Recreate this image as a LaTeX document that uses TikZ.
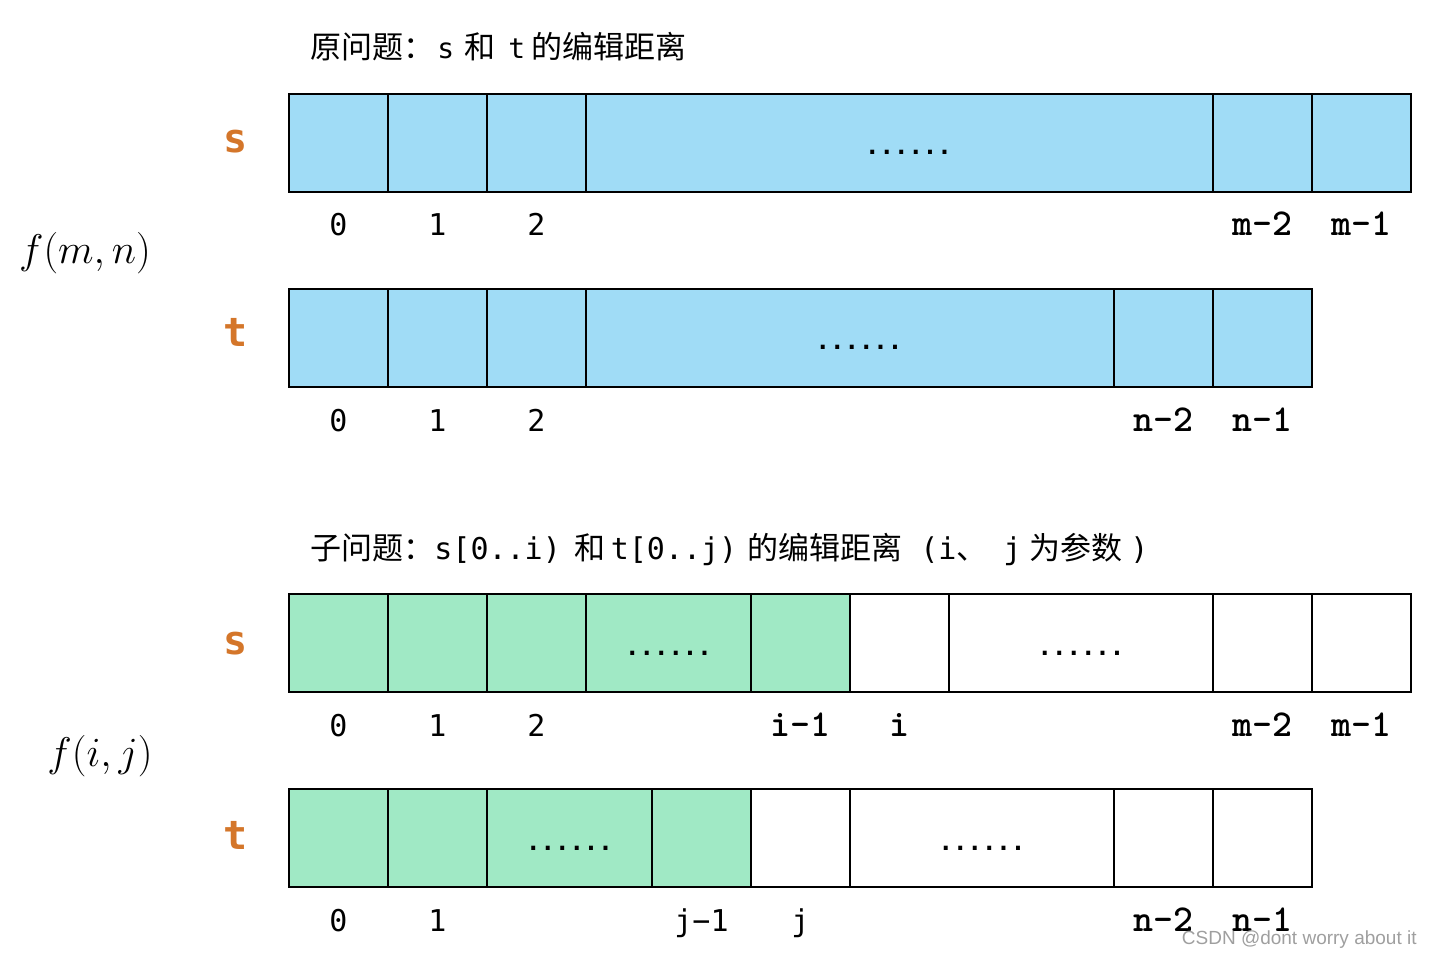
\documentclass[tikz,border=0pt]{standalone}
\usepackage{fontspec}
\usetikzlibrary{positioning,calc}
\newfontfamily\cjk{Noto Sans CJK SC}
\newfontfamily\monosans{DejaVu Sans Mono}
\newfontfamily\wmfont{Liberation Sans}
\definecolor{cellblue}{RGB}{160,220,246}
\definecolor{cellgreen}{RGB}{160,233,197}
\definecolor{strorange}{RGB}{212,118,42}
\newcommand\celldots{......}
\newcommand\celldotsR{\hspace*{9pt}......}

\begin{document}
\begin{tikzpicture}[x=0.5pt, y=-0.5pt,
    cell/.style={draw, fill=#1, line width=1.2pt, inner sep=0pt, outer sep=0pt,
                 anchor=north west, minimum height=49pt, text height=12pt, text depth=0pt,
                 font=\monosans\bfseries\fontsize{12}{12}\selectfont},
    strname/.style={anchor=base, text=strorange, font=\monosans\bfseries\fontsize{20}{20}\selectfont},
    idx/.style={anchor=base, font=\monosans\fontsize{15}{15}\selectfont},
    idxv/.style={anchor=base, font=\ttfamily\bfseries\fontsize{19}{19}\selectfont},
    title/.style={anchor=base west, inner sep=0pt, font=\cjk\fontsize{15.5}{15.5}\selectfont},
    fname/.style={anchor=base, inner sep=0pt, font=\fontsize{22}{22}\selectfont}]
  \useasboundingbox (0,0) rectangle (1433,956);

  %% original problem
  \node[title] (origTitle) at (310,59)
    {原问题：\hspace{1.5pt}{\monosans\fontsize{14}{14}\selectfont s}\hspace{5pt}和\hspace{6.5pt}{\monosans\fontsize{14}{14}\selectfont t}\hspace{3pt}的编辑距离};
  \foreach \a/\b/\c/\t [count=\k] in {289/388/cellblue/{},388/487/cellblue/{},487/586/cellblue/{},
      586/1213/cellblue/\celldotsR,1213/1312/cellblue/{},1312/1411/cellblue/{}}
    \node[cell=\c, minimum width={(\b-\a)*0.5pt}] (origS\k) at (\a,94) {\t};
  \foreach \a/\b/\c/\t [count=\k] in {289/388/cellblue/{},388/487/cellblue/{},487/586/cellblue/{},
      586/1114/cellblue/\celldotsR,1114/1213/cellblue/{},1213/1312/cellblue/{}}
    \node[cell=\c, minimum width={(\b-\a)*0.5pt}] (origT\k) at (\a,289) {\t};
  \node[strname] (origSName) at (236,153) {s};
  \node[strname] (origTName) at (236,347) {t};
  \foreach \c/\t in {1/0,2/1,3/2}
    \node[idx] (origSIdx\c) at ([yshift=-22pt]origS\c.south) {\t};
  \foreach \c/\t in {5/m-2,6/m-1}
    \node[idxv] (origSIdx\c) at ([yshift=-22pt]origS\c.south) {\t};
  \foreach \c/\t in {1/0,2/1,3/2}
    \node[idx] (origTIdx\c) at ([yshift=-22pt]origT\c.south) {\t};
  \foreach \c/\t in {5/n-2,6/n-1}
    \node[idxv] (origTIdx\c) at ([yshift=-22pt]origT\c.south) {\t};
  \node[fname] (origF) at (85,264) {$f(m,n)$};

  %% sub problem
  \node[title] (subTitle) at (310,559)
    {子问题：{\monosans\fontsize{15}{15}\selectfont s[0..i)}\hspace{7pt}和\hspace{2.5pt}{\monosans\fontsize{15}{15}\selectfont t[0..j)}\hspace{5pt}的编辑距离\hspace{9pt}{\monosans\fontsize{15}{15}\selectfont (i}、\hspace{8pt}{\monosans\fontsize{15}{15}\selectfont j}\hspace{4pt}为参数\hspace{4pt}{\monosans\fontsize{15}{15}\selectfont )}};
  \foreach \a/\b/\c/\t [count=\k] in {289/388/cellgreen/{},388/487/cellgreen/{},487/586/cellgreen/{},
      586/751/cellgreen/\celldots,751/850/cellgreen/{},850/949/white/{},949/1213/white/\celldots,
      1213/1312/white/{},1312/1411/white/{}}
    \node[cell=\c, minimum width={(\b-\a)*0.5pt}] (subS\k) at (\a,594) {\t};
  \foreach \a/\b/\c/\t [count=\k] in {289/388/cellgreen/{},388/487/cellgreen/{},487/652/cellgreen/\celldots,
      652/751/cellgreen/{},751/850/white/{},850/1114/white/\celldots,1114/1213/white/{},1213/1312/white/{}}
    \node[cell=\c, minimum width={(\b-\a)*0.5pt}] (subT\k) at (\a,789) {\t};
  \node[strname] (subSName) at (236,654) {s};
  \node[strname] (subTName) at (236,849) {t};
  \foreach \c/\t in {1/0,2/1,3/2}
    \node[idx] (subSIdx\c) at ([yshift=-22pt]subS\c.south) {\t};
  \foreach \c/\t in {5/i-1,6/i,8/m-2,9/m-1}
    \node[idxv] (subSIdx\c) at ([yshift=-22pt]subS\c.south) {\t};
  \foreach \c/\t in {1/0,2/1,4/j−1,5/j}
    \node[idx] (subTIdx\c) at ([yshift=-22pt]subT\c.south) {\t};
  \foreach \c/\t in {7/n-2,8/n-1}
    \node[idxv] (subTIdx\c) at ([yshift=-22pt]subT\c.south) {\t};
  \node[fname] (subF) at (100,766) {$f(i,j)$};

  \node[anchor=base east, inner sep=0pt, text=gray!75, font=\wmfont\fontsize{9.5}{9.5}\selectfont]
    (credit) at (1417,944) {CSDN @dont worry about it};
\end{tikzpicture}
\end{document}
